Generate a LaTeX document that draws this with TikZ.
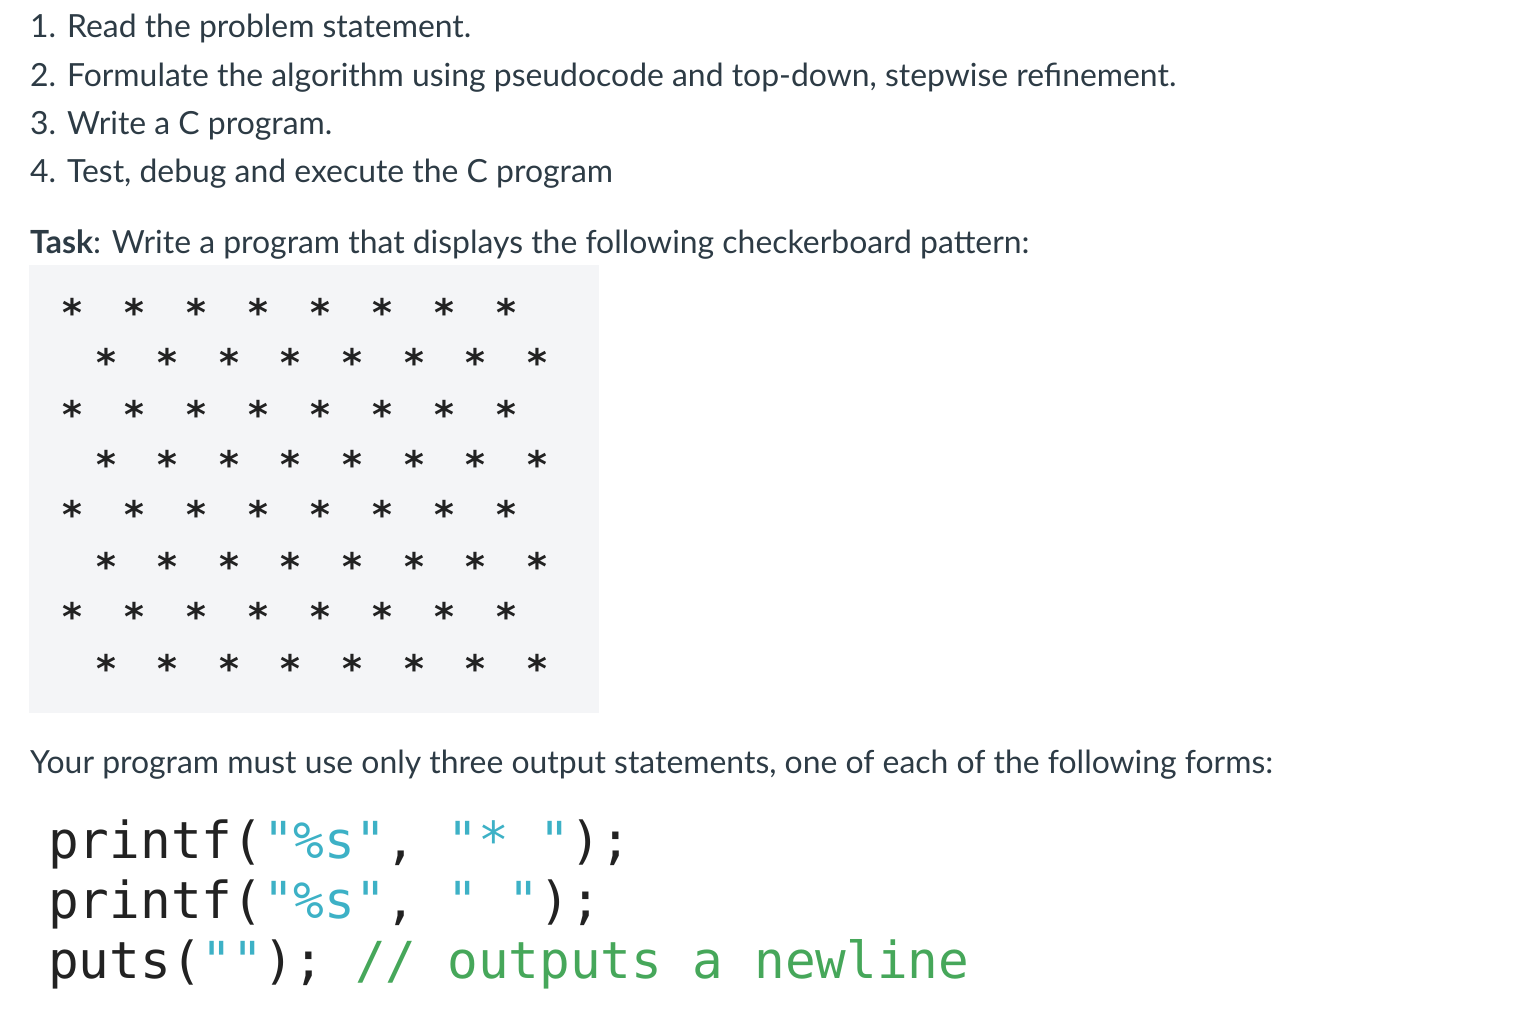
\documentclass[tikz,border=0pt]{standalone}
\usepackage{fontspec}
\setmainfont{Lato}
\newfontfamily\codefont{DejaVu Sans Mono}
\newfontfamily\starfont{DejaVu Sans}
\definecolor{txt}{HTML}{2D3B45}
\definecolor{boxbg}{HTML}{F4F5F7}
\definecolor{cstr}{HTML}{3DB1C6}
\definecolor{ccom}{HTML}{46A75A}
\definecolor{cblk}{HTML}{222222}
\begin{document}
\begin{tikzpicture}[x=1pt,y=-1pt,
  line/.style={anchor=base west,inner sep=0pt,text=txt,font=\fontsize{31.9}{36}\selectfont},
  code/.style={anchor=base west,inner sep=0pt,text=cblk,font=\codefont\fontsize{51}{60}\selectfont},
  star/.style={inner sep=0pt,text=cblk,font=\starfont\bfseries\fontsize{38}{38}\selectfont}]
\useasboundingbox (0,0) rectangle (1540,1026);
\node[line] (l1) at (30,37) {1. Read the problem statement.};
\node[line] (l2) at (30,86) {2. Formulate the algorithm using pseudocode and top-down, stepwise refinement.};
\node[line] (l3) at (30,134) {3. Write a C program.};
\node[line] (l4) at (30,182) {4. Test, debug and execute the C program};
\node[line] (task) at (30,253) {\textbf{Task}: Write a program that displays the following checkerboard pattern:};
\fill[boxbg] (29,265) rectangle (599,713);
\foreach \r/\y in {0/303,1/353,2/405,3/455,4/505,5/557,6/607,7/659}{
  \foreach \i in {0,...,7}{
    \pgfmathsetmacro{\xx}{mod(\r,2)==0 ? 72+62.1*\i : 106+61.6*\i}
    \node[star] (s\r\i) at (\xx,\y+9) {*};
  }
}
\node[line] (your) at (30,773) {Your program must use only three output statements, one of each of the following forms:};
\node[code] (c1) at (48,858) {printf(\textcolor{cstr}{"\%s"}, \textcolor{cstr}{"* "});};
\node[code] (c2) at (48,918) {printf(\textcolor{cstr}{"\%s"}, \textcolor{cstr}{" "});};
\node[code] (c3) at (48,978) {puts(\textcolor{cstr}{""}); \textcolor{ccom}{// outputs a newline}};
\end{tikzpicture}
\end{document}
